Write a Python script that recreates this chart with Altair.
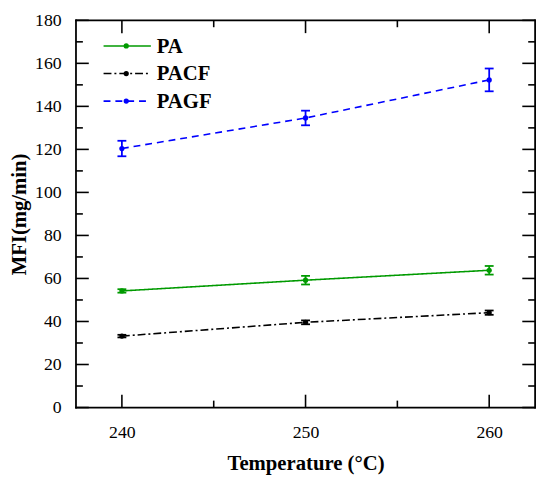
import pandas as pd
import altair as alt

temps = [240, 250, 260]
series = ["PA", "PACF", "PAGF"]
pa = [54.2, 59.2, 63.8]
pa_err = [0.8, 2.0, 2.0]
pacf = [33.2, 39.6, 44.1]
pacf_err = [0.6, 0.9, 1.0]
pagf = [120.4, 134.6, 152.3]
pagf_err = [3.6, 3.4, 5.3]

colors = ["#009a00", "#000000", "#0000ff"]
dashes = [[1, 0], [8, 3, 2, 3], [7, 5]]

x_major = [240, 250, 260]
x_minor = [245, 255]
y_major = [0, 20, 40, 60, 80, 100, 120, 140, 160, 180]
y_minor = [10, 30, 50, 70, 90, 110, 130, 150, 170]

W, H = 466, 393
FONT = "Liberation Serif"

rows = []
for name, vals, errs in [("PA", pa, pa_err), ("PACF", pacf, pacf_err), ("PAGF", pagf, pagf_err)]:
    for t, v, e in zip(temps, vals, errs):
        rows.append({"series": name, "temp": t, "mfi": v, "lo": v - e, "hi": v + e})
df = pd.DataFrame(rows)

xs = alt.Scale(domain=[237.5, 262.5], nice=False, zero=False)
ys = alt.Scale(domain=[0, 180], nice=False)
col = alt.Color("series:N", scale=alt.Scale(domain=series, range=colors), legend=None)
dash = alt.StrokeDash("series:N", scale=alt.Scale(domain=series, range=dashes), legend=None)

base = alt.Chart(df)
lines = base.mark_line(strokeWidth=1.6).encode(
    x=alt.X("temp:Q", scale=xs, title="Temperature (°C)",
            axis=alt.Axis(values=x_major, ticks=False, domain=False, grid=False,
                          labelFont=FONT, labelFontSize=18, labelColor="black", labelPadding=16,
                          titleFont=FONT, titleFontSize=21, titleFontWeight="bold",
                          titleColor="black", titlePadding=12)),
    y=alt.Y("mfi:Q", scale=ys, title="MFI(mg/min)",
            axis=alt.Axis(values=y_major, ticks=False, domain=False, grid=False,
                          labelFont=FONT, labelFontSize=18, labelColor="black", labelPadding=15,
                          titleFont=FONT, titleFontSize=21, titleFontWeight="bold",
                          titleColor="black", titlePadding=5)),
    color=col, strokeDash=dash, detail="series:N",
)
bars = base.mark_rule(strokeWidth=1.8).encode(
    x=alt.X("temp:Q", scale=xs), y=alt.Y("lo:Q", scale=ys), y2="hi:Q", color=col)
caps_lo = base.mark_tick(size=9, thickness=1.8, orient="horizontal", opacity=1).encode(
    x=alt.X("temp:Q", scale=xs), y=alt.Y("lo:Q", scale=ys), color=col)
caps_hi = base.mark_tick(size=9, thickness=1.8, orient="horizontal", opacity=1).encode(
    x=alt.X("temp:Q", scale=xs), y=alt.Y("hi:Q", scale=ys), color=col)
pts = base.mark_circle(size=28, opacity=1).encode(
    x=alt.X("temp:Q", scale=xs), y=alt.Y("mfi:Q", scale=ys), color=col)

# inward ticks on all four sides
def xticks(vals, ln):
    d = alt.Chart(pd.DataFrame({"t": vals}))
    b = d.mark_rule(color="black", strokeWidth=1.6).encode(
        x=alt.X("t:Q", scale=xs), y=alt.value(H), y2=alt.value(H - ln))
    t = d.mark_rule(color="black", strokeWidth=1.6).encode(
        x=alt.X("t:Q", scale=xs), y=alt.value(0), y2=alt.value(ln))
    return b + t

def yticks(vals, ln):
    d = alt.Chart(pd.DataFrame({"t": vals}))
    l = d.mark_rule(color="black", strokeWidth=1.6).encode(
        y=alt.Y("t:Q", scale=ys), x=alt.value(0), x2=alt.value(ln))
    r = d.mark_rule(color="black", strokeWidth=1.6).encode(
        y=alt.Y("t:Q", scale=ys), x=alt.value(W), x2=alt.value(W - ln))
    return l + r

ticks = xticks(x_major, 13) + xticks(x_minor, 7) + yticks(y_major, 13) + yticks(y_minor, 7)

# plot frame
fd = alt.Chart(pd.DataFrame({"f": [0]}))
frame = (
    fd.mark_rule(color="black", strokeWidth=1.8, strokeCap="square").encode(
        x=alt.value(0), x2=alt.value(W), y=alt.value(0))
    + fd.mark_rule(color="black", strokeWidth=1.8, strokeCap="square").encode(
        x=alt.value(0), x2=alt.value(W), y=alt.value(H))
    + fd.mark_rule(color="black", strokeWidth=1.8, strokeCap="square").encode(
        x=alt.value(0), y=alt.value(0), y2=alt.value(H))
    + fd.mark_rule(color="black", strokeWidth=1.8, strokeCap="square").encode(
        x=alt.value(W), y=alt.value(0), y2=alt.value(H))
)

# legend drawn inside the plot
legend_layers = []
for i, name in enumerate(series):
    yy = 26 + i * 28
    d = alt.Chart(pd.DataFrame({"s": [name]}))
    legend_layers.append(d.mark_rule(strokeWidth=1.6, color=colors[i], strokeDash=dashes[i]).encode(
        x=alt.value(28), x2=alt.value(76), y=alt.value(yy)))
    legend_layers.append(d.mark_circle(size=28, opacity=1, color=colors[i]).encode(
        x=alt.value(51), y=alt.value(yy)))
    legend_layers.append(d.mark_text(align="left", baseline="middle", font=FONT, fontSize=21,
                                     fontWeight="bold", color="black").encode(
        x=alt.value(82), y=alt.value(yy + 1), text="s:N"))

chart = alt.layer(lines, bars, caps_lo, caps_hi, pts, ticks, frame, *legend_layers).properties(
    width=W, height=H,
    background="white",
    autosize=alt.AutoSizeParams(type="none"),
    padding={"left": 69, "top": 9, "right": 7, "bottom": 66},
).configure_view(stroke=None)

chart.save("out.html", embed_options={"renderer": "svg", "actions": False})
